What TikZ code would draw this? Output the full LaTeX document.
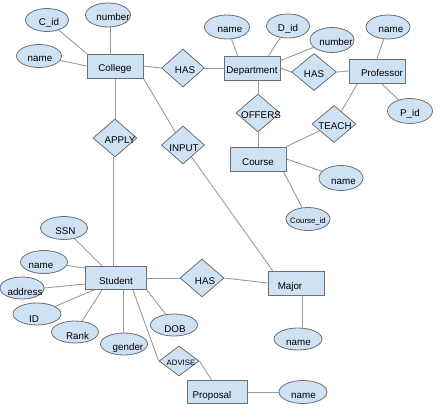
\documentclass[tikz,border=0pt]{standalone}
\usepackage{fontspec}
\setmainfont{Liberation Sans}
\usetikzlibrary{shapes.geometric,backgrounds}
\definecolor{fillc}{HTML}{CFE2F3}
\definecolor{bordc}{HTML}{6B6E72}
\definecolor{linec}{HTML}{9A9A9A}
\newcommand{\labfont}{\fontsize{9.8}{11}\selectfont}
\newcommand{\smallfont}{\fontsize{7.8}{9}\selectfont}
\tikzset{
  ent/.style={rectangle, draw=bordc, fill=fillc, line width=0.8pt, minimum width=56pt, minimum height=24pt, inner sep=0pt},
  attr/.style={ellipse, draw=bordc, fill=fillc, line width=0.8pt, minimum width=45pt, minimum height=24pt, inner sep=0pt},
  rel/.style={diamond, draw=bordc, fill=fillc, line width=0.8pt, minimum width=44pt, minimum height=38pt, inner sep=0pt},
  every label/.style={font=\labfont, text height=7pt, text depth=0pt, inner sep=0pt, yshift=-2.5pt},
  conn/.style={draw=linec, line width=0.9pt},
}
\begin{document}
\begin{tikzpicture}[x=1pt,y=-1pt]
\useasboundingbox (0,0) rectangle (447,409);
% College cluster
\node[ent, label={center:College}] (college) at (115,66) {};
\node[attr, minimum width=43pt, minimum height=23pt, label={[xshift=2pt]center:C\_id}] (cid) at (47,20) {};
\node[attr, label={[xshift=5pt]center:number}] (cnum) at (108,15) {};
\node[attr, minimum height=23pt, label={[xshift=1pt]center:name}] (cname1) at (39,56) {};
\node[rel, minimum width=43pt, label={[xshift=2pt]center:HAS}] (has1) at (183,68) {};
% Department cluster
\node[ent, label={center:Department}] (dept) at (252,68) {};
\node[attr, label={[xshift=3pt]center:name}] (dname) at (227,27) {};
\node[attr, minimum width=43pt, label={center:D\_id}] (did) at (288,26) {};
\node[attr, minimum width=44pt, minimum height=25pt, label={[xshift=4pt]center:number}] (dnum) at (332,40) {};
\node[rel, minimum width=45pt, minimum height=37pt, label={center:HAS}] (has2) at (314,72) {};
% Professor
\node[ent, label={[xshift=5pt]center:Professor}] (prof) at (377,71) {};
\node[attr, minimum width=44pt, label={[xshift=3pt]center:name}] (pname) at (388,27) {};
\node[attr, minimum height=25pt, label={center:P\_id}] (pid) at (410,111) {};
% Course
\node[rel, label={[xshift=3pt]center:OFFERS}] (offers) at (258,113) {};
\node[rel, minimum height=37pt, label={[xshift=1pt]center:TEACH}] (teach) at (334,124) {};
\node[ent, label={center:Course}] (course) at (258,159) {};
\node[attr, minimum width=44pt, minimum height=25pt, label={[xshift=2.5pt]center:name}] (cname) at (341,178) {};
\node[attr, minimum width=44pt, minimum height=23pt, label={[font=\smallfont, text height=5.6pt, yshift=0.5pt]center:Course\_id}] (courseid) at (308,219) {};
% middle relations
\node[rel, label={[xshift=5pt]center:APPLY}] (apply) at (115,138) {};
\node[rel, minimum width=43pt, label={[xshift=1pt]center:INPUT}] (input) at (183,145) {};
% Student cluster
\node[ent, minimum width=61pt, minimum height=23pt, label={center:Student}] (student) at (116,278) {};
\node[attr, minimum width=47pt, minimum height=23pt, label={[xshift=1.5pt]center:SSN}] (ssn) at (64,228) {};
\node[attr, minimum width=47pt, minimum height=23pt, label={[xshift=-3pt]center:name}] (sname) at (44,262) {};
\node[attr, minimum width=44pt, minimum height=22pt, label={[xshift=3pt, yshift=-1.5pt]center:address}] (addr) at (22,288) {};
\node[attr, minimum width=48pt, minimum height=22pt, label={[xshift=-3pt, yshift=-2pt]center:ID}] (sid) at (37,314) {};
\node[attr, minimum width=47pt, minimum height=22pt, label={[xshift=2.5pt, yshift=-1.5pt]center:Rank}] (rank) at (75,332) {};
\node[attr, minimum width=47pt, minimum height=22pt, label={[xshift=4pt]center:gender}] (gender) at (124,344) {};
\node[attr, minimum width=47pt, minimum height=22pt, label={[xshift=1pt, yshift=-1pt]center:DOB}] (dob) at (174,325) {};
\node[rel, label={[xshift=3pt]center:HAS}] (has3) at (202,278) {};
% Major
\node[ent, label={[xshift=-6pt]center:Major}] (major) at (296,283) {};
\node[attr, minimum width=48pt, minimum height=22pt, label={[xshift=0.5pt]center:name}] (mname) at (298,339) {};
% Advise / Proposal
\node[rel, minimum width=40pt, minimum height=30pt, label={[font=\smallfont, text height=5.8pt, xshift=2pt, yshift=0.5pt]center:ADVISE}] (advise) at (179,361) {};
\node[ent, minimum width=60pt, minimum height=23pt, label={[xshift=-5pt]center:Proposal}] (proposal) at (217,392) {};
\node[attr, minimum width=48pt, minimum height=23pt, label={[xshift=0.5pt]center:name}] (prname) at (303,392) {};
% connectors
\begin{scope}[on background layer]
\path[conn] (cid) -- (college.north west);
\path[conn] ([xshift=2pt]cnum.south) -- ([xshift=2pt]cnum.south |- college.north);
\path[conn] (cname1) -- (college.west);
\path[conn] (college.east) -- (has1.west);
\path[conn] (has1.east) -- (dept.west);
\path[conn] (dname) -- ([xshift=14pt]dept.north west);
\path[conn] (did) -- ([xshift=45pt]dept.north west);
\path[conn] (dnum) -- ([yshift=-5pt]dept.north east);
\path[conn] (dept.east) -- (has2.west);
\path[conn] (has2.east) -- (prof.west);
\path[conn] (pname) -- (prof.north);
\path[conn] (pid) -- ([xshift=-24pt]prof.south east);
\path[conn] (teach) -- ([xshift=9pt]prof.south west);
\path[conn] (teach) -- (course.north east);
\path[conn] (offers.north) -- (offers.north |- dept.south);
\path[conn] (offers.south) -- (course.north);
\path[conn] (course.east) -- (cname);
\path[conn] ([xshift=-3pt]course.south east) -- (courseid);
\path[conn] (college.south) -- (apply.north);
\path[conn] ([xshift=-2pt]apply.south) -- ([xshift=-2pt]apply.south |- student.north);
\path[conn] (college.south east) -- (input);
\path[conn] (input) -- ([xshift=5pt]major.north west);
\path[conn] (student.east) -- (has3.west);
\path[conn] (has3.east) -- (major.west);
\path[conn] ([xshift=6pt]major.south) -- ([xshift=6pt]major.south |- mname.north);
\path[conn] (ssn) -- ([xshift=17pt]student.north west);
\path[conn] (sname) -- ([yshift=-2pt]student.north west);
\path[conn] (addr.east) -- ([yshift=-6pt]student.west);
\path[conn] (sid) -- ([xshift=9pt]student.south west);
\path[conn] (rank) -- ([xshift=17pt]student.south west);
\path[conn] ([xshift=-1pt]gender.north) -- ([xshift=-1pt]gender.north |- student.south);
\path[conn] (student.south east) -- (dob);
\path[conn] ([xshift=-14pt]student.south east) -- (advise.west);
\path[conn] (advise.east) -- ([xshift=25pt]proposal.north west);
\path[conn] (proposal.east) -- (prname);
\end{scope}
\end{tikzpicture}
\end{document}
